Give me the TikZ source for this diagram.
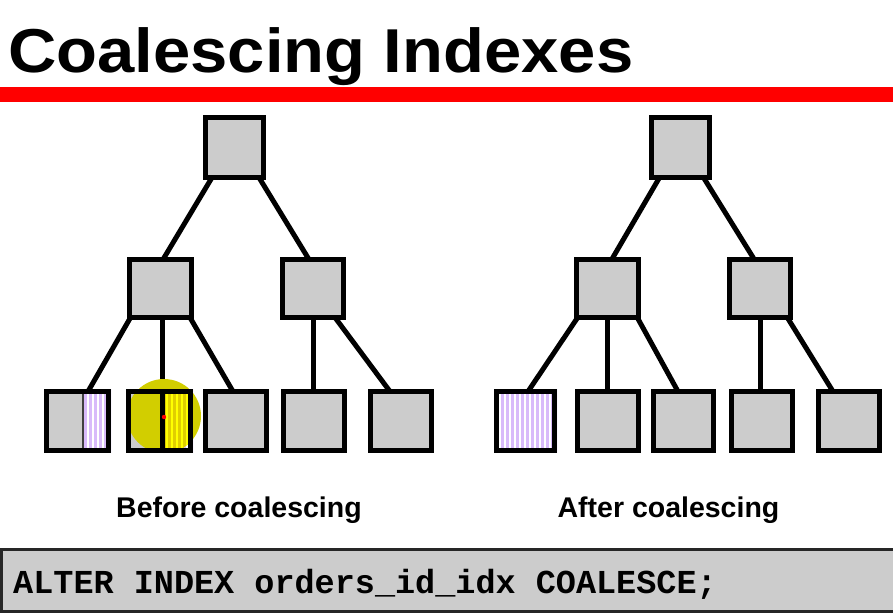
\documentclass[tikz,border=0pt]{standalone}
\usepackage{fontspec}
\setmainfont{Liberation Sans}
\setmonofont{Liberation Mono}
\definecolor{boxgray}{RGB}{204,204,204}
\definecolor{lav}{RGB}{216,186,250}
\definecolor{hiolive}{RGB}{210,206,0}
\definecolor{hiyel}{RGB}{255,255,0}
\definecolor{hidark}{RGB}{224,206,0}
\definecolor{barred}{RGB}{255,0,0}
\begin{document}
\begin{tikzpicture}[x=1pt,y=-1pt,
  box/.style={draw=black, line width=5pt, fill=boxgray, inner sep=0pt, outer sep=0pt},
  leafbox/.style={box, minimum width=61pt, minimum height=59pt},
  midbox/.style={box, minimum width=62pt, minimum height=58pt},
  rootbox/.style={box, minimum width=58pt, minimum height=60pt},
  conn/.style={line width=5pt},
  outline/.style={draw=black, line width=5pt},
  lbl/.style={font=\fontsize{28.5}{30}\selectfont\bfseries, inner sep=0pt, anchor=base},
]
\useasboundingbox (0,0) rectangle (893,614);
\fill[white] (0,0) rectangle (893,614);

% title
\node[anchor=base west, inner sep=0pt, xscale=1.08, font=\fontsize{62}{64}\selectfont\bfseries] (title) at (8,72) {Coalescing Indexes};
\fill[barred] (0,87) rectangle (893,102);

% ---------- left tree ----------
\node[rootbox] (rootL) at (234,147.5) {};
\node[midbox] (aL) at (160.5,288.5) {};
\node[midbox, minimum width=61pt] (bL) at (313,288.5) {};
\node[leafbox, minimum width=62pt] (l1) at (77.5,421) {};
\node[leafbox, minimum width=62pt] (l2) at (159.5,421) {};
\node[leafbox] (l3) at (236,421) {};
\node[leafbox] (l4) at (313.5,421) {};
\node[leafbox] (l5) at (401,421) {};

\draw[conn] ([xshift=-22pt]rootL.south) -- ([xshift=2.5pt]aL.north);
\draw[conn] ([xshift=25pt]rootL.south) -- ([xshift=-4pt]bL.north);
\draw[conn] ([xshift=-30pt]aL.south) -- ([xshift=10.5pt]l1.north);
\draw[conn] ([xshift=1.5pt]aL.south) -- ([xshift=2.5pt]l2.north);
\draw[conn] ([xshift=29.5pt]aL.south) -- ([xshift=-3pt]l3.north);
\draw[conn] (bL.south) -- (bL.south |- l4.north);
\draw[conn] ([xshift=22pt]bL.south) -- ([xshift=-11pt]l5.north);

% leaf 1: half gray, half striped
\begin{scope}
  \clip (83,389) rectangle (111,453);
  \fill[white] (83,389) rectangle (111,453);
  \foreach \x in {84,89,...,109} {\fill[lav] (\x,389) rectangle ++(2.5,64);}
\end{scope}
\draw[black!75, line width=1.5pt] (83,390) -- (83,452);
\draw[outline] (l1.north west) rectangle (l1.south east);

% leaf 2: half gray, half striped, highlighted
\begin{scope}
  \clip (162,389) rectangle (193,453);
  \fill[white] (162,389) rectangle (193,453);
  \foreach \x in {163,168,...,193} {\fill[lav] (\x,389) rectangle ++(2.5,64);}
\end{scope}
\fill[hiolive] (164,416) circle (37);
\begin{scope}
  \clip (164,416) circle (37);
  \clip (162,389) rectangle (193,453);
  \fill[hiyel] (162,389) rectangle (193,453);
  \foreach \x in {163,168,...,193} {\fill[hidark] (\x,389) rectangle ++(2.5,64);}
\end{scope}
\draw[outline] (l2.north west) rectangle (l2.south east);
\draw[conn] (l2.north -| 162,0) -- (l2.south -| 162,0);
\fill[red] (164,417) circle (2.2);

% ---------- right tree ----------
\node[rootbox] (rootR) at (680.5,147.5) {};
\node[midbox, minimum width=62pt] (aR) at (607.5,288) {};
\node[midbox, minimum width=61pt] (bR) at (760,288) {};
\node[leafbox, minimum width=58pt] (r1) at (525.5,421) {};
\node[leafbox] (r2) at (608,421) {};
\node[leafbox, minimum width=60pt] (r3) at (683.5,421) {};
\node[leafbox] (r4) at (762,421) {};
\node[leafbox] (r5) at (849,421) {};

\draw[conn] ([xshift=-21pt]rootR.south) -- ([xshift=4.5pt]aR.north);
\draw[conn] ([xshift=23pt]rootR.south) -- ([xshift=-6pt]bR.north);
\draw[conn] ([xshift=-29.5pt]aR.south) -- ([xshift=2.5pt]r1.north);
\draw[conn] (aR.south) -- (aR.south |- r2.north);
\draw[conn] ([xshift=29.5pt]aR.south) -- ([xshift=-5.5pt]r3.north);
\draw[conn] (bR.south) -- (bR.south |- r4.north);
\draw[conn] ([xshift=27pt]bR.south) -- ([xshift=-16pt]r5.north);

% leaf r1: fully striped
\begin{scope}
  \clip (494,389) rectangle (557,453);
  \fill[white] (494,389) rectangle (557,453);
  \foreach \x in {496,501,...,556} {\fill[lav] (\x,389) rectangle ++(2.5,64);}
\end{scope}
\draw[outline] (r1.north west) rectangle (r1.south east);

% labels
\node[lbl] (before) at (239,517) {Before coalescing};
\node[lbl] (after) at (668.5,517) {After coalescing};

% code bar
\draw[fill=boxgray, draw=black!85, line width=3pt] (1.5,549.5) rectangle (900,611.5);
\node[anchor=base west, inner sep=0pt, font=\ttfamily\bfseries\fontsize{33.5}{35}\selectfont] (code) at (13,593) {ALTER INDEX orders\_id\_idx COALESCE;};
\end{tikzpicture}
\end{document}
